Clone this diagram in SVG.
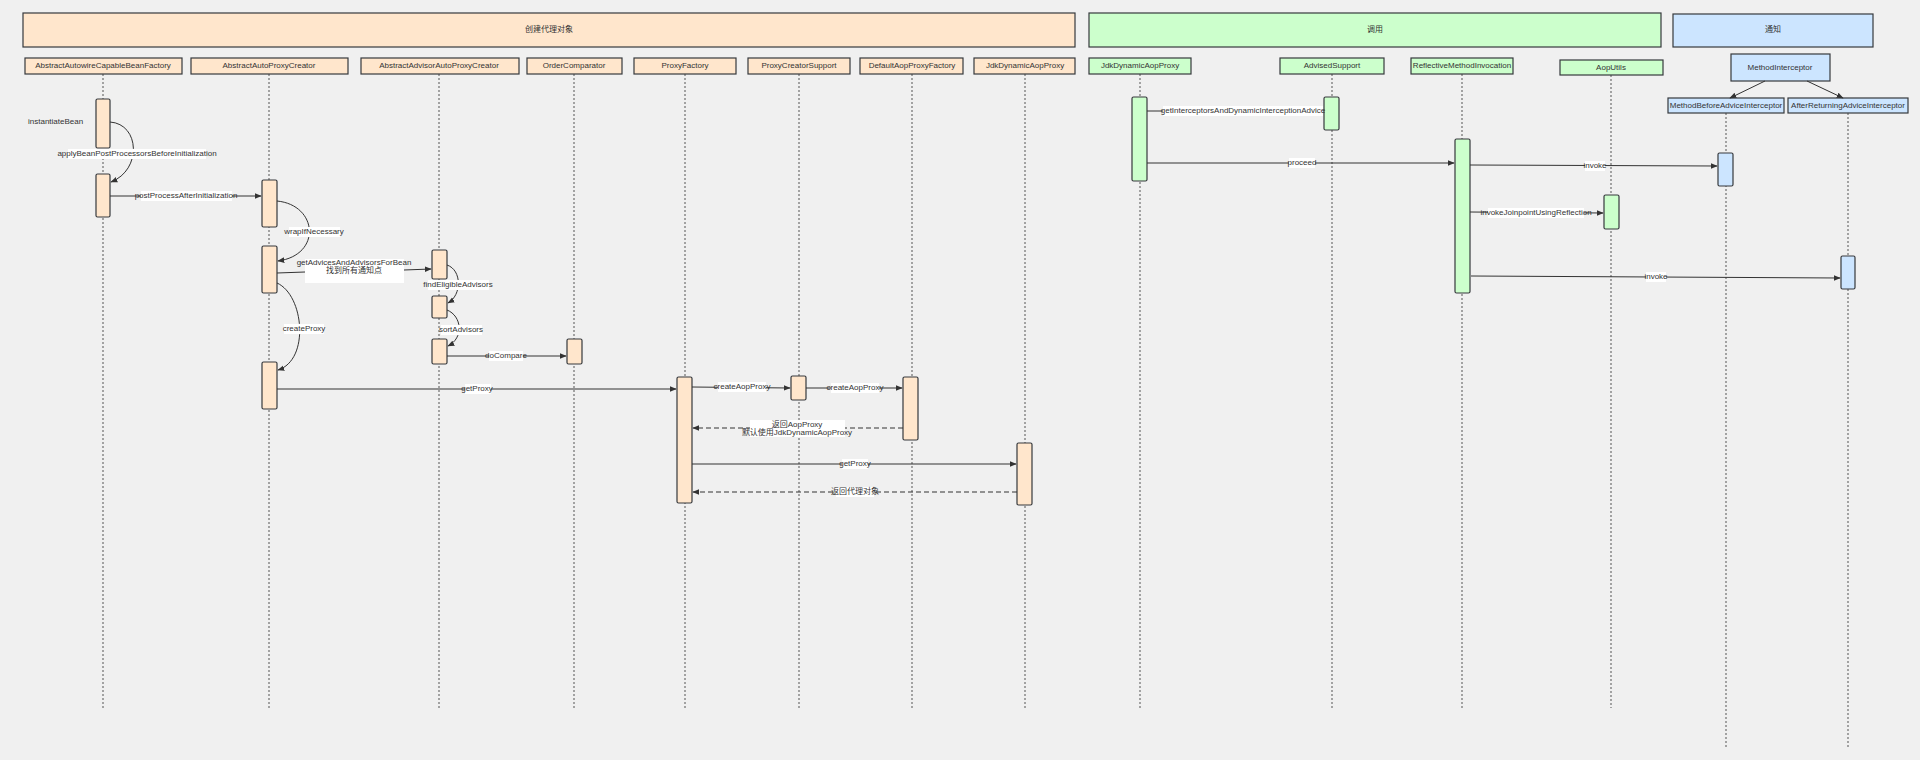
<svg xmlns="http://www.w3.org/2000/svg" width="1920" height="760" viewBox="0 0 1920 760">
<defs>
<marker id="ah" viewBox="0 0 10 10" refX="9" refY="5" markerWidth="7" markerHeight="7" orient="auto-start-reverse"><path d="M0,1 L10,5 L0,9 Z" fill="#333"/></marker>
<style>
text{font-family:"Liberation Sans","Noto Sans CJK SC",sans-serif;font-size:8px;fill:#333;text-anchor:middle;dominant-baseline:middle}
.o{fill:#ffe6cc;stroke:#36393d;stroke-width:1.2}
.g{fill:#ccffcc;stroke:#36393d;stroke-width:1.2}
.b{fill:#cce5ff;stroke:#36393d;stroke-width:1.2}
.ll{stroke:#555;stroke-width:1;stroke-dasharray:2,2;fill:none}
.m{stroke:#333;stroke-width:1;fill:none;marker-end:url(#ah)}
.r{stroke:#333;stroke-width:1;fill:none;stroke-dasharray:5,3;marker-end:url(#ah)}
.lb{fill:#fff}
</style>
</defs>
<rect width="1920" height="760" fill="#f0f0f0"/>
<g id="headers">
<rect class="o" x="23" y="13" width="1052" height="34"/><text x="549" y="30">创建代理对象</text>
<rect class="g" x="1089" y="13" width="572" height="34"/><text x="1375" y="30">调用</text>
<rect class="b" x="1673" y="14" width="200" height="33"/><text x="1773" y="30">通知</text>
</g>
<g id="lifelines">
<line class="ll" x1="103" y1="74" x2="103" y2="708"/>
<line class="ll" x1="269" y1="74" x2="269" y2="708"/>
<line class="ll" x1="439" y1="74" x2="439" y2="708"/>
<line class="ll" x1="574" y1="74" x2="574" y2="708"/>
<line class="ll" x1="685" y1="74" x2="685" y2="708"/>
<line class="ll" x1="799" y1="74" x2="799" y2="708"/>
<line class="ll" x1="912" y1="74" x2="912" y2="708"/>
<line class="ll" x1="1025" y1="74" x2="1025" y2="708"/>
<line class="ll" x1="1140" y1="74" x2="1140" y2="708"/>
<line class="ll" x1="1332" y1="74" x2="1332" y2="708"/>
<line class="ll" x1="1462" y1="74" x2="1462" y2="708"/>
<line class="ll" x1="1611" y1="75" x2="1611" y2="708"/>
<line class="ll" x1="1726" y1="113" x2="1726" y2="747"/>
<line class="ll" x1="1848" y1="113" x2="1848" y2="747"/>
</g>
<g id="p-aacbf"><rect class="o" x="25" y="58" width="157" height="16"/><text x="103" y="66">AbstractAutowireCapableBeanFactory</text></g>
<g id="p-aapc"><rect class="o" x="191" y="58" width="157" height="16"/><text x="269" y="66">AbstractAutoProxyCreator</text></g>
<g id="p-aaapc"><rect class="o" x="361" y="58" width="158" height="16"/><text x="439" y="66">AbstractAdvisorAutoProxyCreator</text></g>
<g id="p-oc"><rect class="o" x="527" y="58" width="95" height="16"/><text x="574" y="66">OrderComparator</text></g>
<g id="p-pf"><rect class="o" x="634" y="58" width="102" height="16"/><text x="685" y="66">ProxyFactory</text></g>
<g id="p-pcs"><rect class="o" x="748" y="58" width="102" height="16"/><text x="799" y="66">ProxyCreatorSupport</text></g>
<g id="p-dapf"><rect class="o" x="860" y="58" width="103" height="16"/><text x="912" y="66">DefaultAopProxyFactory</text></g>
<g id="p-jdk1"><rect class="o" x="974" y="58" width="101" height="16"/><text x="1025" y="66">JdkDynamicAopProxy</text></g>
<g id="p-jdk2"><rect class="g" x="1089" y="58" width="102" height="16"/><text x="1140" y="66">JdkDynamicAopProxy</text></g>
<g id="p-as"><rect class="g" x="1280" y="58" width="104" height="16"/><text x="1332" y="66">AdvisedSupport</text></g>
<g id="p-rmi"><rect class="g" x="1411" y="58" width="102" height="16"/><text x="1462" y="66">ReflectiveMethodInvocation</text></g>
<g id="p-au"><rect class="g" x="1560" y="60" width="103" height="15"/><text x="1611" y="68">AopUtils</text></g>
<g id="p-mi"><rect class="b" x="1731" y="54" width="99" height="27"/><text x="1780" y="68">MethodInterceptor</text></g>
<g id="p-mbai"><rect class="b" x="1668" y="98" width="116" height="15"/><text x="1726" y="106">MethodBeforeAdviceInterceptor</text></g>
<g id="p-arai"><rect class="b" x="1788" y="98" width="120" height="15"/><text x="1848" y="106">AfterReturningAdviceInterceptor</text></g>
<g id="activations">
<rect class="o" x="96" y="99" width="14" height="49" rx="1.5"/>
<rect class="o" x="96" y="174" width="14" height="43" rx="1.5"/>
<rect class="o" x="262" y="180" width="15" height="47" rx="1.5"/>
<rect class="o" x="262" y="246" width="15" height="47" rx="1.5"/>
<rect class="o" x="262" y="362" width="15" height="47" rx="1.5"/>
<rect class="o" x="432" y="250" width="15" height="29" rx="1.5"/>
<rect class="o" x="432" y="296" width="15" height="22" rx="1.5"/>
<rect class="o" x="432" y="339" width="15" height="25" rx="1.5"/>
<rect class="o" x="567" y="339" width="15" height="25" rx="1.5"/>
<rect class="o" x="677" y="377" width="15" height="126" rx="1.5"/>
<rect class="o" x="791" y="376" width="15" height="24" rx="1.5"/>
<rect class="o" x="903" y="377" width="15" height="63" rx="1.5"/>
<rect class="o" x="1017" y="443" width="15" height="62" rx="1.5"/>
<rect class="g" x="1132" y="97" width="15" height="84" rx="1.5"/>
<rect class="g" x="1324" y="97" width="15" height="33" rx="1.5"/>
<rect class="g" x="1455" y="139" width="15" height="154" rx="1.5"/>
<rect class="g" x="1604" y="195" width="15" height="34" rx="1.5"/>
<rect class="b" x="1718" y="153" width="15" height="33" rx="1.5"/>
<rect class="b" x="1841" y="256" width="14" height="33" rx="1.5"/>
</g>
<text x="28" y="122" style="text-anchor:start">instantiateBean</text>
<g id="connectors">
<path class="m" d="M110,122 C140,124 142,170 111,182"/>
<rect class="lb" x="68" y="149" width="138" height="10"/><text x="137" y="154">applyBeanPostProcessorsBeforeInitialization</text>
<path class="m" d="M110,196 L261,196"/>
<rect class="lb" x="141" y="191" width="91" height="10"/><text x="186" y="196">postProcessAfterInitialization</text>
<path class="m" d="M277,201 C318,205 322,255 278,261"/>
<rect class="lb" x="289" y="227" width="51" height="10"/><text x="314" y="232">wrapIfNecessary</text>
<path class="m" d="M277,273 L305,272 M404,270 L431,269"/>
<rect class="lb" x="305" y="259" width="99" height="24"/><text x="354" y="263">getAdvicesAndAdvisorsForBean</text><text x="354" y="271">找到所有通知点</text>
<path class="m" d="M447,265 C462,270 462,295 448,303"/>
<rect class="lb" x="428" y="280" width="61" height="10"/><text x="458" y="285">findEligibleAdvisors</text>
<path class="m" d="M447,310 C462,316 464,338 448,346"/>
<rect class="lb" x="441" y="325" width="41" height="10"/><text x="461" y="330">sortAdvisors</text>
<path class="m" d="M447,356 L566,356"/>
<rect class="lb" x="489" y="351" width="34" height="10"/><text x="506" y="356">doCompare</text>
<path class="m" d="M277,283 C304,295 310,360 278,370"/>
<rect class="lb" x="284" y="324" width="40" height="10"/><text x="304" y="329">createProxy</text>
<path class="m" d="M277,389 L676,389"/>
<rect class="lb" x="465" y="384" width="26" height="10"/><text x="477" y="389">getProxy</text>
<path class="m" d="M692,387 L790,388"/>
<rect class="lb" x="718" y="382" width="48" height="10"/><text x="742" y="387">createAopProxy</text>
<path class="m" d="M806,388 L902,388"/>
<rect class="lb" x="831" y="383" width="48" height="10"/><text x="855" y="388">createAopProxy</text>
<path class="r" d="M903,428 L693,428"/>
<rect class="lb" x="750" y="420" width="95" height="17"/><text x="797" y="425">返回AopProxy</text><text x="797" y="433">默认使用JdkDynamicAopProxy</text>
<path class="m" d="M692,464 L1016,464"/>
<rect class="lb" x="842" y="459" width="26" height="10"/><text x="855" y="464">getProxy</text>
<path class="r" d="M1017,492 L693,492"/>
<rect class="lb" x="836" y="487" width="38" height="10"/><text x="855" y="492">返回代理对象</text>
<path class="m" d="M1147,111 L1323,111"/>
<rect class="lb" x="1163" y="106" width="160" height="10"/><text x="1243" y="111">getInterceptorsAndDynamicInterceptionAdvice</text>
<path class="m" d="M1147,163 L1454,163"/>
<rect class="lb" x="1289" y="158" width="26" height="10"/><text x="1302" y="163">proceed</text>
<path class="m" d="M1470,165 L1717,166"/>
<rect class="lb" x="1585" y="161" width="20" height="10"/><text x="1595" y="166">invoke</text>
<path class="m" d="M1470,212 L1603,213"/>
<rect class="lb" x="1488" y="208" width="96" height="10"/><text x="1536" y="213">invokeJoinpointUsingReflection</text>
<path class="m" d="M1471,276 L1840,278"/>
<rect class="lb" x="1646" y="272" width="20" height="10"/><text x="1656" y="277">invoke</text>
<path class="m" d="M1765,81 L1730,98"/>
<path class="m" d="M1807,81 L1843,98"/>
</g>
</svg>
